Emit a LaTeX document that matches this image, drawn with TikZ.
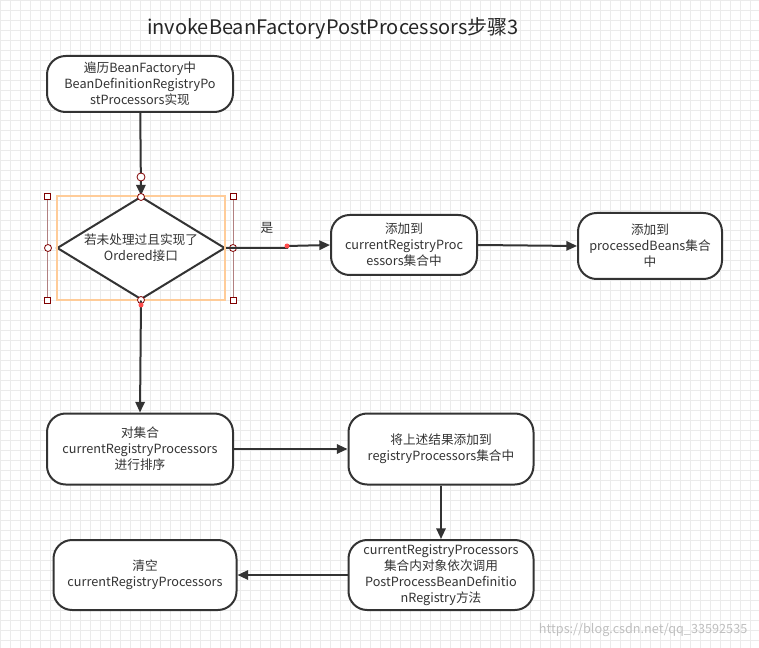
\documentclass[tikz,border=0pt]{standalone}
\usepackage{fontspec}
\setmainfont{Noto Sans CJK SC}
\usetikzlibrary{arrows.meta,shapes.geometric}
\begin{document}
\begin{tikzpicture}[x=0.75pt,y=-0.75pt,
  box/.style={draw=black!80,line width=1.5pt,rounded corners=14pt,fill=white,align=center,font=\fontsize{9.5}{12}\selectfont,text=black!80,inner sep=2pt},
  arr/.style={draw=black!80,line width=1.5pt,-{Triangle[length=8pt,width=7pt]}},
  hnd/.style={draw=red!50!black,fill=white,line width=0.6pt}]
\useasboundingbox (0,0) rectangle (759,648);
\fill[white] (0,0) rectangle (759,648);
\foreach \i in {0,10,...,750} \draw[black!8,line width=0.4pt] (\i,0) -- (\i,648);
\foreach \j in {0,10,...,640} \draw[black!8,line width=0.4pt] (0,\j) -- (759,\j);
\node[font=\fontsize{15}{18}\selectfont,text=black!85] (title) at (333,28) {invokeBeanFactoryPostProcessors步骤3};
\node[box,minimum width=186*0.75pt,minimum height=56*0.75pt] (b1) at (140,84) {遍历BeanFactory中\\BeanDefinitionRegistryPo\\stProcessors实现};
\node[diamond,aspect=1.63,draw=black!80,line width=1.5pt,fill=white,inner sep=0pt,minimum width=168*0.75pt,minimum height=103*0.75pt,align=center,font=\fontsize{9.5}{12}\selectfont,text=black!80] (d) at (141,248) {若未处理过且实现了\\Ordered接口};
\node[box,minimum width=146*0.75pt,minimum height=60*0.75pt] (b2) at (404,245) {添加到\\currentRegistryProc\\essors集合中};
\node[box,minimum width=144*0.75pt,minimum height=66*0.75pt] (b3) at (650,246) {添加到\\processedBeans集合\\中};
\node[box,minimum width=186*0.75pt,minimum height=71*0.75pt] (b4) at (140,449) {对集合\\currentRegistryProcessors\\进行排序};
\node[box,minimum width=185*0.75pt,minimum height=71*0.75pt] (b5) at (441,449) {将上述结果添加到\\registryProcessors集合中};
\node[box,minimum width=185*0.75pt,minimum height=70*0.75pt] (b6) at (441,575) {currentRegistryProcessors\\集合内对象依次调用\\PostProcessBeanDefinitio\\nRegistry方法};
\node[box,minimum width=183*0.75pt,minimum height=70*0.75pt] (b7) at (145,575) {清空\\currentRegistryProcessors};
% selection decorations
\draw[orange!40,line width=1.2pt] (57,196) rectangle (225,300);
\draw[red!40!black!50,line width=0.5pt] (47,196) -- (47,300) (233,196) -- (233,300);
\foreach \p in {(47,196),(233,196),(47,300),(233,300)} \draw[hnd] \p ++(-3,-3) rectangle ++(6,6);
\draw[arr] (b1) -- (d.north);
\draw[hnd] (141,177) circle (4);
\foreach \p in {(141,197),(141,300),(48,248),(233,248)} \draw[hnd] \p circle (3.5);
\draw[arr] (d.east) -- (287,248) -- (287,246) -- (b2.west);
\fill[red!70] (287,246) circle (2.5);
\node[font=\fontsize{9.5}{12}\selectfont,text=black!80] (yes) at (267,228) {是};
\draw[arr] (b2.east) -- (b3.west);
\draw[arr] (d.south) -- (b4.north);
\fill[red!70] (141,305) circle (2.5);
\draw[arr] (b4.east) -- (b5.west);
\draw[arr] (b5.south) -- (b6.north);
\draw[arr] (b6.west) -- (b7.east);
\node[font=\fontsize{9.5}{12}\selectfont,text=black!25,anchor=east] (wm) at (752,630) {https://blog.csdn.net/qq\_33592535};
\end{tikzpicture}
\end{document}
